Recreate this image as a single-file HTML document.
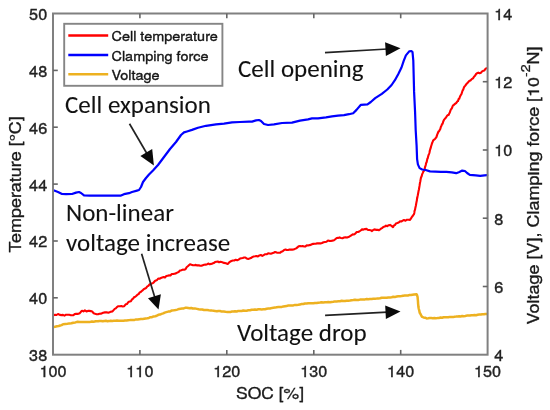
<!DOCTYPE html>
<html><head><meta charset="utf-8"><title>SOC plot</title>
<style>html,body{margin:0;padding:0;background:#fff;width:550px;height:410px;overflow:hidden}svg{display:block;filter:blur(0.3px)}</style>
</head><body>
<svg width="550" height="410" viewBox="0 0 550 410">
<rect width="550" height="410" fill="#fff"/>
<g fill="none" stroke-linejoin="round" stroke-linecap="round">
<path d="M53.5,327.1 L55.2,326.7 L57.0,326.3 L58.7,326.0 L60.2,325.5 L61.6,325.1 L63.1,324.2 L65.3,324.0 L67.5,323.8 L69.4,323.4 L71.4,323.3 L73.3,322.7 L75.4,322.4 L77.6,321.8 L79.6,322.0 L81.5,322.1 L83.5,322.0 L85.2,322.0 L86.9,321.9 L88.5,322.1 L90.2,321.9 L91.9,321.5 L93.6,321.7 L95.8,321.2 L98.0,321.3 L99.6,321.0 L101.2,320.9 L102.7,321.2 L104.3,320.9 L105.9,320.8 L107.5,321.2 L109.1,321.1 L110.7,320.7 L112.2,321.0 L113.8,320.8 L115.4,320.8 L117.0,320.5 L118.6,320.8 L120.2,320.7 L121.8,320.8 L123.4,320.7 L125.0,320.4 L126.6,320.4 L128.2,320.2 L129.8,320.1 L131.4,319.9 L133.0,319.9 L134.6,319.9 L136.1,319.4 L137.7,319.6 L139.3,319.3 L140.9,319.1 L142.5,319.1 L144.1,318.7 L145.7,318.4 L147.3,318.2 L148.9,317.9 L150.4,317.2 L152.0,317.2 L153.6,316.4 L155.2,316.2 L156.8,315.7 L158.4,314.8 L160.0,314.6 L161.6,313.9 L163.2,313.4 L164.7,312.6 L166.3,312.1 L168.2,311.6 L170.1,311.4 L172.0,310.4 L173.8,310.3 L175.6,310.0 L177.3,309.6 L179.1,308.9 L180.6,308.7 L182.1,308.5 L183.7,308.4 L185.2,307.8 L186.7,307.8 L188.2,308.0 L189.7,308.2 L191.2,307.9 L192.7,308.5 L194.8,308.4 L196.9,308.9 L198.7,309.3 L200.4,309.6 L202.2,309.5 L204.0,310.0 L205.6,310.0 L207.2,310.1 L208.9,310.3 L210.5,310.4 L212.1,310.6 L213.7,310.7 L215.3,311.1 L216.8,311.3 L218.4,311.0 L220.0,311.0 L221.8,311.6 L223.7,311.6 L225.6,311.8 L227.4,311.9 L228.9,311.9 L230.4,311.9 L232.0,311.6 L233.5,311.5 L235.0,311.2 L236.7,311.5 L238.3,310.9 L240.0,311.0 L241.7,311.0 L243.3,310.5 L245.0,310.7 L246.7,310.7 L248.3,310.3 L250.0,310.2 L251.7,309.7 L253.3,309.7 L255.0,309.4 L256.7,309.7 L258.3,309.3 L260.0,309.3 L261.7,309.4 L263.3,309.3 L265.0,309.2 L266.7,308.7 L268.3,308.5 L270.0,308.4 L271.7,308.1 L273.3,307.7 L275.0,307.6 L276.7,307.2 L278.3,307.1 L280.0,307.1 L281.7,306.9 L283.3,306.5 L285.0,306.2 L286.7,305.9 L288.3,305.6 L290.0,305.5 L291.7,305.5 L293.3,305.4 L295.0,304.9 L296.7,304.9 L298.3,304.7 L300.0,304.4 L301.7,304.1 L303.3,304.0 L305.0,303.5 L306.7,303.6 L308.3,303.3 L310.0,303.3 L311.7,303.3 L313.3,303.2 L315.0,302.9 L316.7,303.1 L318.3,302.8 L320.0,302.6 L321.7,302.3 L323.3,302.4 L325.0,302.2 L326.7,302.3 L328.3,302.1 L330.0,302.2 L331.7,301.9 L333.3,301.8 L335.0,301.4 L336.7,301.4 L338.3,301.3 L340.0,301.2 L341.7,300.8 L343.3,301.0 L345.0,300.9 L346.7,300.7 L348.3,300.7 L350.0,300.6 L351.7,300.3 L353.3,300.1 L355.0,299.8 L356.7,300.0 L358.3,300.0 L360.0,299.6 L361.7,299.6 L363.3,299.5 L365.0,299.4 L366.7,299.0 L368.3,299.2 L370.0,299.0 L371.7,298.9 L373.3,298.7 L375.0,298.7 L376.7,298.6 L378.3,298.4 L380.0,298.3 L381.7,297.8 L383.3,297.8 L385.0,297.8 L386.7,297.7 L388.3,297.4 L390.0,297.5 L391.7,297.3 L393.3,296.8 L395.0,296.9 L396.7,296.6 L398.3,296.3 L400.0,296.2 L401.6,296.1 L403.2,295.8 L404.8,295.6 L406.4,295.4 L408.0,295.4 L409.5,295.1 L411.0,295.1 L412.5,294.8 L414.0,294.5 L416.6,294.2 L417.1,295.3 L417.6,297.0 L417.7,298.6 L417.9,300.3 L418.0,301.8 L418.1,303.8 L418.3,305.3 L418.4,306.8 L418.8,309.0 L419.3,310.7 L419.7,312.8 L420.5,314.0 L421.2,315.4 L422.0,316.9 L423.5,317.4 L425.1,317.7 L426.6,318.4 L428.2,318.3 L429.7,318.1 L431.2,318.0 L432.8,318.2 L434.3,318.1 L435.9,318.2 L437.4,318.1 L439.0,317.9 L440.5,317.6 L442.1,317.8 L443.6,317.3 L445.2,317.2 L446.7,317.3 L448.3,317.3 L449.8,316.9 L451.4,317.1 L452.9,317.1 L454.5,316.7 L456.0,316.6 L457.6,316.4 L459.1,316.3 L460.6,316.5 L462.2,316.0 L463.7,316.2 L465.3,316.0 L466.8,315.6 L468.4,315.4 L469.9,315.6 L471.5,315.3 L473.0,315.2 L474.6,315.0 L476.1,315.2 L477.7,314.8 L479.2,314.6 L480.8,314.5 L482.3,314.2 L483.9,314.3 L485.4,314.0 L487.0,313.9" stroke="#EDB120" stroke-width="2.5"/>
<path d="M53.5,315.3 L55.0,314.7 L56.5,315.0 L58.0,314.0 L59.8,314.9 L61.6,315.1 L63.0,314.9 L64.5,315.6 L66.0,314.7 L67.5,314.8 L69.0,314.7 L70.4,315.1 L71.8,315.2 L73.3,315.3 L74.7,314.1 L76.2,313.8 L77.6,313.9 L79.8,313.2 L80.9,311.8 L82.0,310.7 L83.5,311.4 L84.9,310.4 L86.4,311.4 L87.9,310.9 L89.3,310.9 L90.8,311.1 L92.2,311.5 L93.7,313.3 L95.1,313.8 L96.6,314.2 L98.0,314.2 L99.5,313.7 L101.3,313.6 L103.1,312.7 L104.9,312.4 L106.7,312.3 L108.2,312.7 L109.6,312.2 L111.0,311.6 L112.5,311.4 L113.6,310.1 L114.7,308.9 L115.8,308.4 L116.9,307.1 L118.3,306.2 L119.8,306.3 L121.3,306.1 L122.7,306.5 L124.2,306.2 L125.7,304.3 L127.1,303.9 L128.4,302.0 L129.6,301.6 L130.9,301.2 L132.0,299.4 L133.1,298.7 L134.2,297.1 L135.3,296.8 L136.4,295.8 L137.5,294.7 L138.6,294.1 L139.6,292.5 L140.7,292.1 L141.8,291.0 L142.9,290.1 L144.0,289.0 L145.1,288.6 L146.2,287.8 L147.3,286.4 L148.4,285.9 L149.5,284.4 L150.5,284.4 L151.6,283.6 L152.7,283.3 L153.8,282.4 L154.9,281.0 L156.0,280.4 L157.1,280.0 L158.2,278.5 L159.5,278.7 L160.9,278.0 L162.2,277.5 L163.6,277.1 L165.0,277.4 L166.3,276.1 L167.7,275.7 L169.1,275.4 L170.4,275.5 L171.8,274.0 L173.2,274.0 L174.5,273.7 L175.9,273.4 L177.2,272.6 L178.6,272.0 L180.0,270.6 L181.4,270.2 L182.8,269.6 L184.1,269.7 L185.5,269.2 L186.6,267.2 L187.8,266.2 L188.9,265.2 L190.0,264.2 L191.5,264.8 L193.0,265.3 L194.5,265.2 L195.9,264.9 L197.2,265.4 L198.6,265.3 L200.0,265.6 L201.4,265.8 L202.8,265.2 L204.1,264.8 L205.5,264.6 L206.8,264.5 L208.2,263.5 L209.6,264.3 L210.9,263.9 L212.3,263.6 L213.7,263.1 L215.0,262.1 L216.4,261.7 L217.8,261.5 L219.1,262.3 L220.5,261.8 L222.3,262.2 L224.1,262.9 L225.9,263.2 L227.7,263.9 L228.9,262.7 L230.2,261.7 L231.4,261.0 L232.8,260.5 L234.3,260.5 L235.7,259.7 L237.2,260.3 L238.6,259.6 L240.0,258.6 L241.3,258.3 L242.7,258.0 L244.1,257.5 L245.4,257.5 L246.8,258.6 L248.2,259.0 L249.5,258.6 L250.9,258.1 L252.2,257.1 L253.6,256.5 L255.0,256.3 L256.5,256.0 L257.9,256.5 L259.4,255.4 L260.8,255.0 L262.3,255.9 L263.7,255.1 L265.2,254.2 L266.6,254.3 L268.1,253.3 L269.5,253.5 L270.9,253.8 L272.2,253.3 L273.6,252.8 L275.0,252.0 L276.8,252.6 L278.6,252.8 L280.0,252.8 L281.4,251.7 L282.7,251.2 L284.1,249.9 L285.5,249.5 L286.8,250.0 L288.1,250.0 L289.5,249.6 L290.9,249.6 L292.2,249.6 L293.6,249.5 L295.0,248.9 L296.2,248.4 L297.4,247.4 L298.6,246.2 L300.0,246.1 L301.4,246.3 L302.7,246.1 L304.1,246.5 L305.5,246.4 L306.8,245.3 L308.1,245.5 L309.5,245.1 L310.8,244.9 L312.1,244.1 L313.4,243.9 L314.7,243.8 L316.0,243.6 L317.5,243.3 L319.0,243.4 L320.5,243.4 L322.0,243.0 L323.5,242.2 L325.0,242.0 L326.5,241.8 L328.0,240.5 L329.5,240.9 L331.0,241.0 L332.5,240.6 L334.0,240.3 L335.3,239.2 L336.7,238.0 L338.0,237.9 L339.5,237.4 L341.0,238.0 L342.5,238.2 L344.0,237.5 L345.5,237.2 L347.0,237.6 L348.5,237.1 L350.0,236.2 L351.3,235.3 L352.7,234.4 L354.0,234.5 L355.3,233.6 L356.7,232.0 L358.0,232.0 L359.3,231.5 L360.7,230.5 L362.0,229.4 L363.5,229.6 L365.0,229.1 L366.5,228.9 L368.0,230.0 L369.3,230.0 L370.7,230.2 L372.0,231.1 L373.5,229.7 L375.0,229.4 L376.3,229.9 L377.7,229.7 L379.0,230.3 L380.0,229.5 L381.0,228.6 L382.0,228.1 L383.3,227.0 L384.7,226.6 L386.0,225.6 L387.3,226.2 L388.7,225.2 L390.0,224.9 L391.5,225.9 L393.0,227.1 L394.0,225.4 L395.0,225.0 L396.0,223.4 L397.3,223.0 L398.7,222.5 L400.0,221.4 L401.3,221.5 L402.7,220.7 L404.0,220.0 L405.5,220.7 L407.0,219.7 L408.5,219.8 L410.0,219.9 L411.0,218.4 L412.0,216.8 L413.0,215.5 L414.0,214.1 L414.3,212.9 L414.6,210.7 L415.0,209.9 L415.3,208.1 L415.6,206.7 L415.8,206.0 L416.1,204.3 L416.3,203.1 L416.5,202.0 L416.8,200.8 L417.0,198.9 L417.3,197.8 L417.5,196.4 L417.8,195.2 L418.0,194.1 L418.3,192.5 L418.5,191.3 L418.8,190.0 L419.0,189.2 L419.2,187.7 L419.4,186.6 L419.6,185.4 L419.9,183.3 L420.1,182.3 L420.3,181.5 L420.5,180.1 L420.9,178.0 L421.4,176.7 L421.8,175.8 L422.2,174.1 L422.7,173.1 L423.2,171.7 L423.7,171.2 L424.2,170.1 L424.7,169.1 L425.1,166.8 L425.4,166.2 L425.8,164.8 L426.2,162.8 L426.6,162.3 L426.9,161.1 L427.3,158.9 L427.7,158.3 L428.2,156.2 L428.6,154.9 L429.0,154.1 L429.5,152.5 L429.9,150.3 L430.3,149.2 L430.7,147.9 L431.1,146.3 L431.6,144.7 L432.0,143.4 L432.4,142.5 L433.2,140.3 L434.1,139.7 L435.2,138.7 L436.3,137.3 L436.8,136.0 L437.2,134.6 L437.8,133.3 L438.4,131.5 L439.0,131.4 L439.7,130.0 L440.3,129.0 L440.9,126.7 L441.5,125.7 L442.0,124.1 L442.6,123.8 L443.1,121.9 L443.7,120.5 L444.2,119.6 L444.8,118.9 L445.8,117.8 L446.8,116.2 L447.7,115.1 L448.7,115.0 L449.3,113.4 L449.9,112.3 L450.5,110.4 L451.1,109.1 L451.7,108.7 L452.3,107.1 L452.9,105.5 L453.5,105.3 L454.8,104.0 L456.1,103.2 L457.4,101.3 L458.0,101.1 L458.6,99.0 L459.2,98.8 L459.8,97.1 L460.4,95.8 L461.0,94.8 L461.5,94.0 L462.1,92.0 L462.6,90.5 L463.2,89.7 L463.7,88.1 L464.3,86.7 L465.3,85.6 L466.2,84.3 L467.2,83.3 L468.1,82.3 L469.1,81.1 L470.4,80.6 L471.7,79.1 L473.0,78.4 L474.0,76.8 L475.0,75.8 L476.0,74.1 L477.0,73.2 L478.3,72.6 L479.6,73.2 L480.9,72.7 L482.1,71.4 L483.2,70.8 L484.4,70.5 L485.5,68.7 L486.7,68.3" stroke="#FF0000" stroke-width="2.1"/>
<path d="M53.5,190.3 L58.0,192.0 L62.0,194.0 L66.0,194.2 L72.0,194.0 L76.0,192.6 L79.0,192.0 L81.0,193.0 L84.0,195.4 L90.0,195.6 L102.0,195.6 L121.0,195.6 L124.0,194.2 L129.0,193.2 L132.0,192.0 L137.0,190.6 L139.0,190.0 L141.0,187.0 L143.0,182.0 L146.0,178.0 L149.0,174.5 L153.0,170.5 L158.0,165.0 L164.0,157.0 L170.0,149.0 L176.0,142.0 L181.0,135.0 L184.0,132.4 L187.0,131.5 L192.0,129.9 L198.0,127.7 L206.0,125.8 L216.0,124.4 L224.0,123.6 L232.0,122.4 L240.0,122.0 L249.0,121.6 L252.0,121.6 L256.0,120.4 L259.0,120.0 L261.0,121.0 L264.0,124.0 L268.0,125.0 L274.0,124.4 L282.0,123.0 L292.0,122.6 L300.0,120.6 L308.0,119.4 L312.0,118.4 L318.0,118.4 L326.0,117.4 L332.0,116.4 L338.0,115.6 L344.0,115.2 L349.0,114.2 L353.2,113.2 L356.5,109.9 L360.9,104.8 L367.5,104.4 L370.8,102.0 L375.2,98.2 L381.8,93.8 L387.3,89.5 L391.6,85.0 L394.9,80.2 L398.2,74.2 L401.5,67.5 L403.7,60.9 L405.9,55.4 L409.2,51.4 L411.4,51.0 L412.5,52.0 L413.3,60.7 L414.1,91.9 L415.1,112.6 L415.7,130.2 L416.6,145.6 L417.1,159.2 L417.9,164.4 L419.6,168.1 L422.2,169.5 L425.6,170.0 L430.0,171.4 L435.5,171.7 L440.9,171.9 L446.4,171.9 L451.8,172.4 L456.2,173.2 L459.4,171.9 L462.2,170.6 L464.9,171.0 L467.1,173.0 L469.8,174.8 L475.8,175.4 L480.2,175.9 L484.5,175.4 L487.2,175.2" stroke="#0000FF" stroke-width="2.2"/>
</g>
<g stroke="#666" stroke-width="1.6" fill="none">
<rect x="53.0" y="13.5" width="434.6" height="341.2" stroke="#808080" stroke-width="2"/>
<line x1="139.9" y1="354.7" x2="139.9" y2="349.9"/>
<line x1="139.9" y1="13.5" x2="139.9" y2="18.3"/>
<line x1="226.8" y1="354.7" x2="226.8" y2="349.9"/>
<line x1="226.8" y1="13.5" x2="226.8" y2="18.3"/>
<line x1="313.8" y1="354.7" x2="313.8" y2="349.9"/>
<line x1="313.8" y1="13.5" x2="313.8" y2="18.3"/>
<line x1="400.7" y1="354.7" x2="400.7" y2="349.9"/>
<line x1="400.7" y1="13.5" x2="400.7" y2="18.3"/>
<line x1="53.0" y1="297.8" x2="57.8" y2="297.8"/>
<line x1="53.0" y1="241.0" x2="57.8" y2="241.0"/>
<line x1="53.0" y1="184.1" x2="57.8" y2="184.1"/>
<line x1="53.0" y1="127.2" x2="57.8" y2="127.2"/>
<line x1="53.0" y1="70.4" x2="57.8" y2="70.4"/>
<line x1="487.6" y1="286.5" x2="482.8" y2="286.5"/>
<line x1="487.6" y1="218.2" x2="482.8" y2="218.2"/>
<line x1="487.6" y1="150.0" x2="482.8" y2="150.0"/>
<line x1="487.6" y1="81.7" x2="482.8" y2="81.7"/>
</g>
<g font-family="'TeX Gyre Heros', 'Liberation Sans', Arial, Helvetica, sans-serif" font-size="15.6" fill="#222" stroke="#222" stroke-width="0.35">
<text transform="translate(53.0,376.7) scale(1.045,1)" text-anchor="middle">100</text>
<text transform="translate(139.9,376.7) scale(1.045,1)" text-anchor="middle">110</text>
<text transform="translate(226.8,376.7) scale(1.045,1)" text-anchor="middle">120</text>
<text transform="translate(313.8,376.7) scale(1.045,1)" text-anchor="middle">130</text>
<text transform="translate(400.7,376.7) scale(1.045,1)" text-anchor="middle">140</text>
<text transform="translate(487.6,376.7) scale(1.045,1)" text-anchor="middle">150</text>
<text transform="translate(47.2,361.1) scale(1.045,1)" text-anchor="end">38</text>
<text transform="translate(47.2,304.2) scale(1.045,1)" text-anchor="end">40</text>
<text transform="translate(47.2,247.4) scale(1.045,1)" text-anchor="end">42</text>
<text transform="translate(47.2,190.5) scale(1.045,1)" text-anchor="end">44</text>
<text transform="translate(47.2,133.6) scale(1.045,1)" text-anchor="end">46</text>
<text transform="translate(47.2,76.8) scale(1.045,1)" text-anchor="end">48</text>
<text transform="translate(47.2,19.9) scale(1.045,1)" text-anchor="end">50</text>
<text transform="translate(494.2,361.1) scale(1.045,1)">4</text>
<text transform="translate(494.2,292.9) scale(1.045,1)">6</text>
<text transform="translate(494.2,224.6) scale(1.045,1)">8</text>
<text transform="translate(494.2,156.4) scale(1.045,1)">10</text>
<text transform="translate(494.2,88.1) scale(1.045,1)">12</text>
<text transform="translate(494.2,19.9) scale(1.045,1)">14</text>
</g>
<g font-family="'TeX Gyre Heros', 'Liberation Sans', Arial, Helvetica, sans-serif" font-size="16.2" fill="#1a1a1a" stroke="#1a1a1a" stroke-width="0.3">
<text transform="translate(270,398.6) scale(1.13,1)" text-anchor="middle" font-size="15.5">SOC [%]</text>
<text transform="translate(21.2,184.3) rotate(-90) scale(1.11,1)" text-anchor="middle">Temperature [°C]</text>
<text transform="translate(538.6,185.5) rotate(-90) scale(1.11,1)" text-anchor="middle">Voltage [V], Clamping force [10<tspan font-size="12.6" dy="-9">-2</tspan><tspan dy="9">N]</tspan></text>
</g>
<rect x="64.2" y="23.8" width="158.2" height="62" fill="#fff" stroke="#858585" stroke-width="1.9"/>
<line x1="68.3" y1="35.4" x2="108.2" y2="35.4" stroke="#FF0000" stroke-width="2.5"/>
<text transform="translate(111.5,41.4) scale(1.07,1)" font-family="'TeX Gyre Heros', 'Liberation Sans', Arial, Helvetica, sans-serif" font-size="13.5" fill="#151515" stroke="#151515" stroke-width="0.35">Cell temperature</text>
<line x1="68.3" y1="55.0" x2="108.2" y2="55.0" stroke="#0000FF" stroke-width="2.5"/>
<text transform="translate(111.5,61.0) scale(1.07,1)" font-family="'TeX Gyre Heros', 'Liberation Sans', Arial, Helvetica, sans-serif" font-size="13.5" fill="#151515" stroke="#151515" stroke-width="0.35">Clamping force</text>
<line x1="68.3" y1="74.2" x2="108.2" y2="74.2" stroke="#EDB120" stroke-width="2.5"/>
<text transform="translate(111.5,80.2) scale(1.07,1)" font-family="'TeX Gyre Heros', 'Liberation Sans', Arial, Helvetica, sans-serif" font-size="13.5" fill="#151515" stroke="#151515" stroke-width="0.35">Voltage</text>
<line x1="325" y1="52.7" x2="387.5" y2="49.0" stroke="#222" stroke-width="1.7"/><path d="M400.5,48.2 L385.9,55.9 L385.1,42.3 Z" fill="#0a0a0a"/>
<line x1="129.5" y1="123.8" x2="147.3" y2="154.2" stroke="#222" stroke-width="1.7"/><path d="M153.9,165.4 L140.4,155.9 L152.2,149.0 Z" fill="#0a0a0a"/>
<line x1="141.6" y1="253.7" x2="155.0" y2="298.1" stroke="#222" stroke-width="1.7"/><path d="M158.5,309.6 L148.0,298.2 L160.9,294.2 Z" fill="#0a0a0a"/>
<line x1="325.1" y1="315.4" x2="387.5" y2="312.1" stroke="#222" stroke-width="1.7"/><path d="M400.5,311.4 L385.9,319.0 L385.2,305.4 Z" fill="#0a0a0a"/>
<g font-family="Carlito, Calibri, 'Liberation Sans', sans-serif" font-size="25" fill="#111" stroke="#111" stroke-width="0.08">
<text x="238" y="77.4">Cell opening</text>
<text x="65" y="113">Cell expansion</text>
<text x="66" y="221">Non-linear</text>
<text x="66" y="250.5">voltage increase</text>
<text x="237" y="341.1">Voltage drop</text>
</g>
</svg>
</body></html>
